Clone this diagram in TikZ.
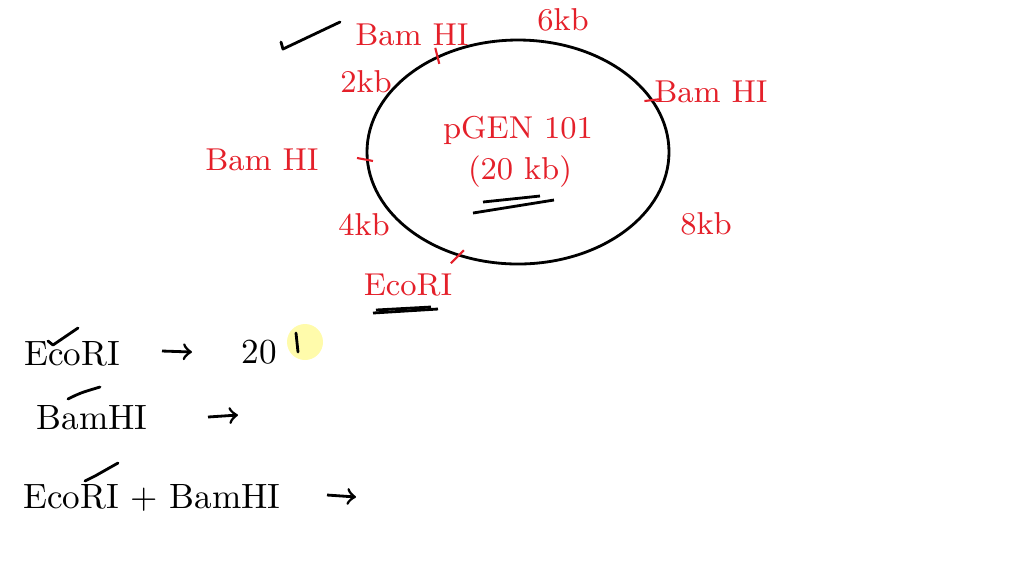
\documentclass[tikz,border=0pt]{standalone}
\usetikzlibrary{shapes.geometric}
\definecolor{penred}{RGB}{228,32,42}
\begin{document}
\begin{tikzpicture}[
  redtext/.style={text=penred,font=\small,inner sep=1pt},
  inktext/.style={text=black,font=\normalsize,inner sep=1pt},
  cut/.style={draw=penred,semithick},
  underl/.style={draw=black,thick},
  pen/.style={draw=black,thick,line cap=round,line join=round}
]
\useasboundingbox (0,0) rectangle (10.24,-5.76);

% plasmid map
\node[ellipse,draw,thick,minimum width=3.02cm,minimum height=2.24cm,inner sep=0pt] (plasmid) at (5.18,-1.52) {};

\draw[cut] ([shift={(-0.02,0.08)}]plasmid.130) -- ([shift={(0.02,-0.08)}]plasmid.130);
\draw[cut] ([shift={(-0.09,-0.01)}]plasmid.21) -- ([shift={(0.08,0.01)}]plasmid.21);
\draw[cut] ([shift={(-0.09,0.02)}]plasmid.183) -- ([shift={(0.07,-0.01)}]plasmid.183);
\draw[cut] ([shift={(-0.07,-0.07)}]plasmid.240) -- ([shift={(0.06,0.06)}]plasmid.240);

\node[redtext] (bamtop) at (4.12,-0.35) {Bam HI};
\node[redtext] (sixkb) at (5.63,-0.20) {6kb};
\node[redtext] (twokb) at (3.66,-0.82) {2kb};
\node[redtext] (bamright) at (7.11,-0.92) {Bam HI};
\node[redtext] (bamleft) at (2.62,-1.60) {Bam HI};
\node[redtext] (pname) at (5.18,-1.30) {pGEN 101};
\node[redtext] (psize) at (5.20,-1.72) {(20 kb)};
\node[redtext] (fourkb) at (3.64,-2.25) {4kb};
\node[redtext] (eightkb) at (7.06,-2.24) {8kb};
\node[redtext] (ecotop) at (4.08,-2.85) {EcoRI};

\draw[underl] (4.83,-2.02) -- (5.40,-1.96);
\draw[underl] (4.73,-2.13) -- (5.54,-2.00);
\draw[underl] (3.73,-3.13) -- (4.38,-3.09);
\draw[underl] (3.76,-3.10) -- (4.31,-3.07);
\draw[pen] (2.81,-0.42) -- (2.83,-0.49) -- (3.40,-0.22);

% digests
\node[inktext] (ecoone) at (0.72,-3.54) {EcoRI};
\draw[pen] (0.48,-3.41) -- (0.53,-3.45) -- (0.78,-3.28);
\coordinate (ecoarrowa) at (1.62,-3.51);
\coordinate (ecoarrowb) at (1.92,-3.52);
\draw[->,thick] (ecoarrowa) -- (ecoarrowb);
\node[circle,fill=yellow!55,opacity=0.6,minimum size=0.36cm,inner sep=0pt] (cursor) at (3.05,-3.42) {};
\node[inktext] (twenty) at (2.59,-3.52) {20};
\draw[pen] (2.96,-3.33) -- (2.98,-3.52);

\node[inktext] (bamone) at (0.92,-4.18) {BamHI};
\draw[pen] (0.68,-3.99) .. controls (0.80,-3.93) .. (1.00,-3.87);
\coordinate (bamarrowa) at (2.08,-4.17);
\coordinate (bamarrowb) at (2.38,-4.15);
\draw[->,thick] (bamarrowa) -- (bamarrowb);

\node[inktext] (both) at (1.52,-4.98) {EcoRI + BamHI};
\draw[pen] (0.85,-4.81) -- (0.95,-4.76) -- (1.18,-4.63);
\coordinate (botharrowa) at (3.27,-4.95);
\coordinate (botharrowb) at (3.56,-4.97);
\draw[->,thick] (botharrowa) -- (botharrowb);
\end{tikzpicture}
\end{document}
